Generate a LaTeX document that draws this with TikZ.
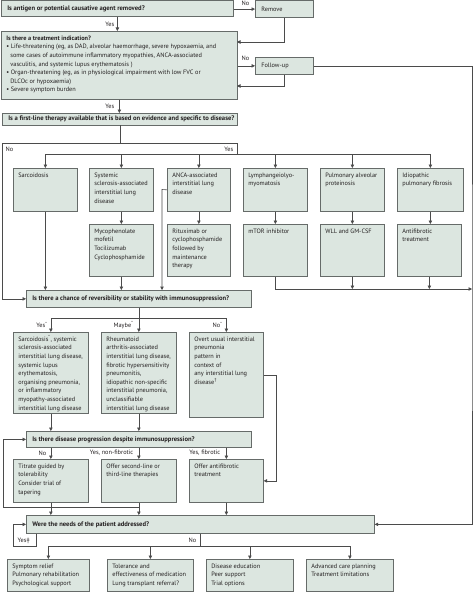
\documentclass[tikz,border=0pt]{standalone}
\usepackage{fontspec}
\setmainfont{PT Sans}
\usetikzlibrary{arrows.meta, positioning}
\definecolor{boxfill}{HTML}{DCE6E0}
\definecolor{boxline}{HTML}{666B69}
\definecolor{wire}{HTML}{4B4B4B}
\definecolor{ink}{HTML}{231F20}
\newcommand{\cellfont}{\fontsize{6.3}{8.6}\selectfont}
\newcommand{\askfont}{\fontsize{6.6}{8.6}\selectfont\bfseries}
% fixed-size box contents, text at the top
\newcommand{\celltext}[3]{\parbox[c][\dimexpr#2pt-6pt\relax][t]{\dimexpr#1pt-10pt\relax}{\begin{tabular}[t]{@{}l@{}}#3\end{tabular}}}
\newcommand{\asktext}[2]{\makebox[\dimexpr#1pt-12pt\relax][l]{#2}}
\tikzset{
  >={Triangle[length=3.5pt,width=3.5pt]},
  cell/.style={draw=boxline, fill=boxfill, line width=0.7pt, anchor=north west,
    inner xsep=5pt, inner ysep=3pt, font=\cellfont, text=ink},
  ask/.style={draw=boxline, fill=boxfill, line width=0.7pt, anchor=north west,
    inner xsep=6pt, inner ysep=0pt, font=\askfont, text=ink},
  lbl/.style={font=\cellfont, text=ink, inner sep=0.5pt},
  link/.style={draw=wire, line width=0.6pt}
}

\begin{document}
\begin{tikzpicture}[x=1pt, y=-1pt]
    \useasboundingbox (0,0) rectangle (474,594);

    % questions
    \node[ask, minimum height=16pt] (antigen) at (1,0.5) {\asktext{232}{Is antigen or potential causative agent removed?}};
    \node[ask, font=\cellfont, minimum height=16.5pt] (remove) at (255,0.5) {\asktext{58}{Remove}};
    \node[cell] (indication) at (1,31) {\celltext{236}{68}{%
      \textbf{Is there a treatment indication?}\\
      • Life-threatening (eg, as DAD, alveolar haemorrhage, severe hypoxaemia,  and\\
      \hspace*{4pt}some cases of autoimmune inflammatory myopathies, ANCA-associated\\
      \hspace*{4pt}vasculitis, and systemic lupus erythematosis )\\
      • Organ-threatening (eg, as in physiological impairment with low FVC or\\
      \hspace*{4pt}DLCOc or  hypoxaemia)\\
      • Severe symptom burden}};
    \node[ask, font=\cellfont, minimum height=17pt] (followup) at (255,57) {\asktext{58}{Follow-up}};
    \node[ask, minimum height=11.5pt] (firstline) at (2,113) {\asktext{235}{Is a first-line therapy available that is based on evidence and specific to disease?}};

    % specific diseases
    \node[cell] (sarc) at (13,168) {\celltext{64}{43}{Sarcoidosis}};
    \node[cell] (ssc) at (89,168) {\celltext{64}{43}{Systemic\\sclerosis-associated\\interstitial lung\\disease}};
    \node[cell] (anca) at (167,168) {\celltext{63}{43}{ANCA-associated\\interstitial lung\\disease}};
    \node[cell] (lam) at (243,168) {\celltext{64}{43}{Lymphangeiolyo-\\myomatosis}};
    \node[cell] (pap) at (320,168) {\celltext{64}{43}{Pulmonary alveolar\\proteinosis}};
    \node[cell] (ipf) at (397,168) {\celltext{66}{43}{Idiopathic\\pulmonary fibrosis}};

    \node[cell] (mmf) at (89,224) {\celltext{64}{52}{Mycophenolate\\mofetil\\Tocilizumab\\Cyclophosphamide}};
    \node[cell] (ritux) at (167,224) {\celltext{63}{52}{Rituximab or\\cyclophosphamide\\followed by\\maintenance\\therapy}};
    \node[cell] (mtor) at (243,224) {\celltext{64}{52}{mTOR inhibitor}};
    \node[cell] (wll) at (320,224) {\celltext{64}{52}{WLL and GM-CSF}};
    \node[cell] (afib) at (397,224) {\celltext{64}{52}{Antifibrotic\\treatment}};

    % immunosuppression
    \node[ask, minimum height=17pt] (chance) at (26,290) {\asktext{225}{Is there a chance of reversibility or stability with immunosuppression?}};
    \node[cell] (yesbox) at (13,332) {\celltext{75}{81}{Sarcoidosis\textsuperscript{*}, systemic\\sclerosis-associated\\interstitial lung disease,\\systemic lupus\\erythematosis,\\organising pneumonia,\\or inflammatory\\myopathy-associated\\interstitial lung disease}};
    \node[cell] (maybebox) at (101,332) {\celltext{75}{81}{Rheumatoid\\arthritis-associated\\interstitial lung disease,\\fibrotic hypersensitivity\\pneumonitis,\\idiopathic non-specific\\interstitial pneumonia,\\unclassifiable\\interstitial lung disease}};
    \node[cell] (nobox) at (189,332) {\celltext{74}{85}{Overt usual interstitial\\pneumonia\\pattern in\\context of\\any interstitial lung\\disease\textsuperscript{†}}};

    \node[ask, minimum height=16pt] (progress) at (26,431) {\asktext{225}{Is there disease progression despite immunosuppression?}};
    \node[cell] (titrate) at (13,459) {\celltext{75}{43}{Titrate guided by\\tolerability\\Consider trial of\\tapering}};
    \node[cell] (second) at (101,459) {\celltext{75}{43}{Offer second-line or\\third-line therapies}};
    \node[cell] (antifib) at (189,459) {\celltext{74}{43}{Offer antifibrotic\\treatment}};

    % needs of the patient
    \node[ask, minimum height=18pt] (needs) at (26,515) {\asktext{348}{Were the needs of the patient addressed?}};
    \node[cell] (relief) at (7,559) {\celltext{82}{32}{Symptom relief\\Pulmonary rehabilitation\\Psychological support}};
    \node[cell] (tolerance) at (107,559) {\celltext{86}{32}{Tolerance and\\effectiveness of medication\\Lung transplant referral?}};
    \node[cell] (educ) at (206,559) {\celltext{87}{32}{Disease education\\Peer support\\Trial options}};
    \node[cell] (acp) at (306,559) {\celltext{87}{32}{Advanced care planning\\Treatment limitations}};

    % branch labels
    \node[lbl, anchor=west] (no1) at (241,3) {No};
    \node[lbl, anchor=east] (yes1) at (115,24) {Yes};
    \node[lbl, anchor=west] (no2) at (241,58) {No};
    \node[lbl, anchor=east] (yes2) at (115,106) {Yes};
    \node[lbl, anchor=west] (no3) at (5,149) {No};
    \node[lbl, anchor=east] (yes3) at (234,149) {Yes};
    \node[lbl, anchor=east] (yes4) at (48,325) {Yes\textsuperscript{*}};
    \node[lbl, anchor=east] (maybe4) at (134,325) {Maybe\textsuperscript{*}};
    \node[lbl, anchor=east] (no4) at (223,325) {No\textsuperscript{*}};
    \node[lbl, anchor=east] (no5) at (47,453) {No};
    \node[lbl, anchor=east] (yes5) at (134,453) {Yes, non-fibrotic};
    \node[lbl, anchor=east] (yes6) at (221,453) {Yes, fibrotic};
    \node[lbl, anchor=west] (yes7) at (17,541) {Yes‡};
    \node[lbl, anchor=east] (no7) at (197,540) {No};

    % connectors
    \coordinate (back1) at (237,42);
    \coordinate (back2) at (237,86);
    \coordinate (rail) at (472,300);
    \draw[link, ->] (antigen.east |- remove.west) -- (remove.west);
    \draw[link, ->] (remove.south) |- (back1);
    \draw[link, ->] (antigen.south) -- (antigen.south |- indication.north);
    \draw[link, ->] (indication.east |- followup.west) -- (followup.west);
    \draw[link, ->] (followup.south) |- (back2);
    \draw[link, ->] (followup.east) -| (rail) |- (needs.east);
    \draw[link, ->] (indication.south) -- (indication.south |- firstline.north);

    \coordinate (nosplit) at (2,143);
    \coordinate (yessplit) at (237,143);
    \coordinate (yesbar) at (237,154);
    \draw[link] (firstline.south) -- (firstline.south |- nosplit);
    \draw[link, ->] (yessplit) -- (nosplit) |- (chance.west);
    \draw[link] (yessplit) -- (yesbar);
    \draw[link] (sarc.north |- yesbar) -- (ipf.north |- yesbar);
    \foreach \n in {sarc, ssc, anca, lam, pap, ipf}
      \draw[link, ->] (\n.north |- yesbar) -- (\n.north);
    \foreach \a/\b in {ssc/mmf, anca/ritux, lam/mtor, pap/wll, ipf/afib}
      \draw[link, ->] (\a.south) -- (\a.south |- \b.north);

    \coordinate (ancaj) at (162,189.5);
    \draw[link, ->] (sarc.south) -- (sarc.south |- chance.north);
    \draw[link, ->] (mmf.south) -- (mmf.south |- chance.north);
    \draw[link, ->] (anca.west) -- (ancaj) -- (ancaj |- chance.north);

    \coordinate (tbar) at (0,289);
    \draw[link, ->] (mtor.south) |- (rail |- tbar);
    \draw[link, ->] (wll.south) -- (wll.south |- tbar);
    \draw[link, ->] (afib.south) -- (afib.south |- tbar);

    \coordinate (rbar) at (0,318);
    \draw[link] (chance.south) -- (chance.south |- rbar);
    \draw[link] (yesbox.north |- rbar) -- (nobox.north |- rbar);
    \foreach \n in {yesbox, maybebox, nobox}
      \draw[link, ->] (\n.north |- rbar) -- (\n.north);
    \draw[link, ->] (yesbox.south) -- (yesbox.south |- progress.north);
    \draw[link, ->] (maybebox.south) -- (maybebox.south |- progress.north);
    \draw[link, ->] (nobox.east) -- ++(13,0) |- (antifib.east);

    \foreach \n in {titrate, second, antifib} {
      \draw[link, ->] (progress.south -| \n.north) -- (\n.north);
      \draw[link, ->] (\n.south) -- (\n.south |- needs.north);
    }
    \coordinate (loop) at (3,507);
    \draw[link, ->] (second.south |- loop) -- (loop) |- (progress.west);

    \coordinate (yesturn) at (13,546);
    \coordinate (nobar) at (0,546);
    \draw[link, ->] ([xshift=10pt]needs.south west) |- (yesturn) |- (needs.west);
    \draw[link] ([xshift=174pt]needs.south west) -- ++(0,13);
    \draw[link] (relief.north |- nobar) -- (acp.north |- nobar);
    \foreach \n in {relief, tolerance, educ, acp}
      \draw[link, ->] (\n.north |- nobar) -- (\n.north);
\end{tikzpicture}
\end{document}
